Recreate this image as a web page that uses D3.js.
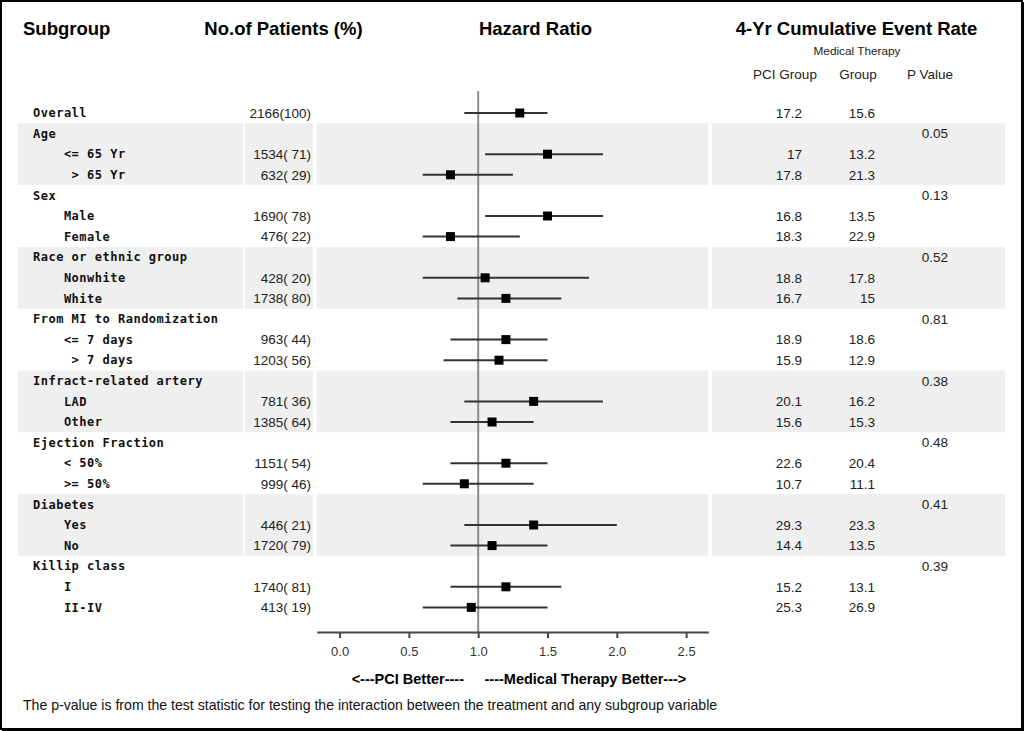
<!DOCTYPE html>
<html><head><meta charset="utf-8">
<script src="https://cdn.jsdelivr.net/npm/d3@7"></script>
<style>
html,body{margin:0;padding:0;background:#fff;}
svg{display:block;}
.lab{font-family:"DejaVu Sans Mono",monospace;font-weight:bold;font-size:12px;letter-spacing:0.5px;white-space:pre;fill:#111;}
.num{font-family:"Liberation Sans",Arial,sans-serif;font-size:13.5px;fill:#222;white-space:pre;}
.hdr{font-family:"Liberation Sans",Arial,sans-serif;font-weight:bold;font-size:18.5px;fill:#000;}
</style></head>
<body>
<svg id="chart" width="1024" height="731"></svg>
<script>
// ---- data ----
const labels = ["Overall","Age","    <= 65 Yr","     > 65 Yr","Sex","    Male","    Female",
  "Race or ethnic group","    Nonwhite","    White","From MI to Randomization","    <= 7 days","     > 7 days",
  "Infract-related artery","    LAD","    Other","Ejection Fraction","    < 50%","    >= 50%",
  "Diabetes","    Yes","    No","Killip class","    I","    II-IV"];
const groupIndex = [0,1,1,1,2,2,2,3,3,3,4,4,4,5,5,5,6,6,6,7,7,7,8,8,8];
const patients = ["2166(100)","","1534( 71)","632( 29)","","1690( 78)","476( 22)",
  "","428( 20)","1738( 80)","","963( 44)","1203( 56)",
  "","781( 36)","1385( 64)","","1151( 54)","999( 46)",
  "","446( 21)","1720( 79)","","1740( 81)","413( 19)"];
const hazardRatio = [1.3,null,1.5,0.8,null,1.5,0.8,null,1.05,1.2,null,1.2,1.15,null,1.4,1.1,null,1.2,0.9,null,1.4,1.1,null,1.2,0.95];
const lowerCL = [0.9,null,1.05,0.6,null,1.05,0.6,null,0.6,0.85,null,0.8,0.75,null,0.9,0.8,null,0.8,0.6,null,0.9,0.8,null,0.8,0.6];
const upperCL = [1.5,null,1.9,1.25,null,1.9,1.3,null,1.8,1.6,null,1.5,1.5,null,1.9,1.4,null,1.5,1.4,null,2.0,1.5,null,1.6,1.5];
const pciRate = ["17.2","","17","17.8","","16.8","18.3","","18.8","16.7","","18.9","15.9","","20.1","15.6","","22.6","10.7","","29.3","14.4","","15.2","25.3"];
const medRate = ["15.6","","13.2","21.3","","13.5","22.9","","17.8","15","","18.6","12.9","","16.2","15.3","","20.4","11.1","","23.3","13.5","","13.1","26.9"];
const pValue = ["","0.05","","","0.13","","","0.52","","","0.81","","","0.38","","","0.48","","","0.41","","","0.39","",""];
const xTicks = [0.0,0.5,1.0,1.5,2.0,2.5];

// ---- layout ----
const svg = d3.select("#chart");
const W = 1024, H = 731;
const y = d3.scaleBand().domain(d3.range(labels.length)).range([102.7, 617.7]).padding(0);
const x = d3.scaleLinear().domain([-0.165, 2.66]).range([316.7, 708.3]);
const rowC = i => y(i) + y.bandwidth()/2;

// shaded bands
const bandSegs = [[18,243.5],[245,313],[316.7,708.3],[711.7,1005]];
const shadedGroups = d3.groups(d3.range(labels.length), i => groupIndex[i]).filter(([g]) => g % 2 === 1);
shadedGroups.forEach(([g, idx]) => {
  const top = y(idx[0]), bot = y(idx[idx.length-1]) + y.bandwidth();
  bandSegs.forEach(([a,b]) => {
    svg.append("rect").attr("x",a).attr("y",top).attr("width",b-a).attr("height",bot-top).attr("fill","#efefef");
  });
});

// headers
svg.append("text").attr("class","hdr").attr("x",23).attr("y",35).text("Subgroup");
svg.append("text").attr("class","hdr").attr("x",283.5).attr("y",35).attr("text-anchor","middle").text("No.of Patients (%)");
svg.append("text").attr("class","hdr").attr("x",535.5).attr("y",35).attr("text-anchor","middle").text("Hazard Ratio");
svg.append("text").attr("class","hdr").attr("x",856.5).attr("y",35).attr("text-anchor","middle").text("4-Yr Cumulative Event Rate");
svg.append("text").attr("class","num").style("font-size","11.8px").attr("x",857).attr("y",55).attr("text-anchor","middle").text("Medical Therapy");
svg.append("text").attr("class","num").attr("x",785).attr("y",79).attr("text-anchor","middle").text("PCI Group");
svg.append("text").attr("class","num").attr("x",858).attr("y",79).attr("text-anchor","middle").text("Group");
svg.append("text").attr("class","num").attr("x",930).attr("y",79).attr("text-anchor","middle").text("P Value");

// row texts
const rows = svg.append("g").selectAll("g").data(d3.range(labels.length)).join("g");
rows.append("text").attr("class","lab").attr("x",33).attr("y",i=>rowC(i)).attr("dy","0.35em").text(i=>labels[i]);
rows.append("text").attr("class","num").attr("x",311).attr("y",i=>rowC(i)).attr("dy","0.35em").attr("text-anchor","end").text(i=>patients[i]);
rows.append("text").attr("class","num").attr("x",802).attr("y",i=>rowC(i)).attr("dy","0.35em").attr("text-anchor","end").text(i=>pciRate[i]);
rows.append("text").attr("class","num").attr("x",875).attr("y",i=>rowC(i)).attr("dy","0.35em").attr("text-anchor","end").text(i=>medRate[i]);
rows.append("text").attr("class","num").attr("x",948).attr("y",i=>rowC(i)).attr("dy","0.35em").attr("text-anchor","end").text(i=>pValue[i]);

// reference line at 1
svg.append("line").attr("x1",x(1)).attr("x2",x(1)).attr("y1",91).attr("y2",632).attr("stroke","#8c8c8c").attr("stroke-width",2);

// CIs and squares
const est = d3.range(labels.length).filter(i => hazardRatio[i] != null);
svg.append("g").selectAll("line").data(est).join("line")
  .attr("x1",i=>x(lowerCL[i])).attr("x2",i=>x(upperCL[i]))
  .attr("y1",i=>rowC(i)).attr("y2",i=>rowC(i))
  .attr("stroke","#333").attr("stroke-width",2);
const sq = 9;
svg.append("g").selectAll("rect").data(est).join("rect")
  .attr("x",i=>x(hazardRatio[i])-sq/2).attr("y",i=>rowC(i)-sq/2)
  .attr("width",sq).attr("height",sq).attr("fill","#000");

// axis
const axis = svg.append("g").attr("transform","translate(0,632)")
  .call(d3.axisBottom(x).tickValues(xTicks).tickFormat(d3.format(".1f")).tickSize(6).tickSizeOuter(0).tickPadding(6));
axis.select(".domain").attr("stroke","#444").attr("stroke-width",2.2);
axis.selectAll(".tick line").attr("stroke","#444").attr("stroke-width",2);
axis.selectAll(".tick text").attr("font-family","Liberation Sans, Arial, sans-serif").attr("font-size","13px").attr("fill","#333").attr("dy","0.9em");

svg.append("text").attr("x",464).attr("y",684).attr("text-anchor","end")
  .attr("font-family","Liberation Sans, Arial, sans-serif").attr("font-weight","bold").attr("font-size","14.5px").text("<---PCI Better----");
svg.append("text").attr("x",484.5).attr("y",684)
  .attr("font-family","Liberation Sans, Arial, sans-serif").attr("font-weight","bold").attr("font-size","14.5px").text("----Medical Therapy Better--->");

svg.append("text").attr("x",23).attr("y",710)
  .attr("font-family","Liberation Sans, Arial, sans-serif").attr("font-size","14.1px").attr("fill","#111")
  .text("The p-value is from the test statistic for testing the interaction between the treatment and any subgroup variable");

// border
svg.append("rect").attr("x",1).attr("y",1).attr("width",W-3).attr("height",H-3).attr("fill","none").attr("stroke","#000").attr("stroke-width",2);
svg.append("line").attr("x1",W-1.5).attr("x2",W-1.5).attr("y1",2).attr("y2",H).attr("stroke","#000").attr("stroke-width",3);
svg.append("line").attr("x1",2).attr("x2",W).attr("y1",H-1.5).attr("y2",H-1.5).attr("stroke","#000").attr("stroke-width",3);
</script>
</body></html>
